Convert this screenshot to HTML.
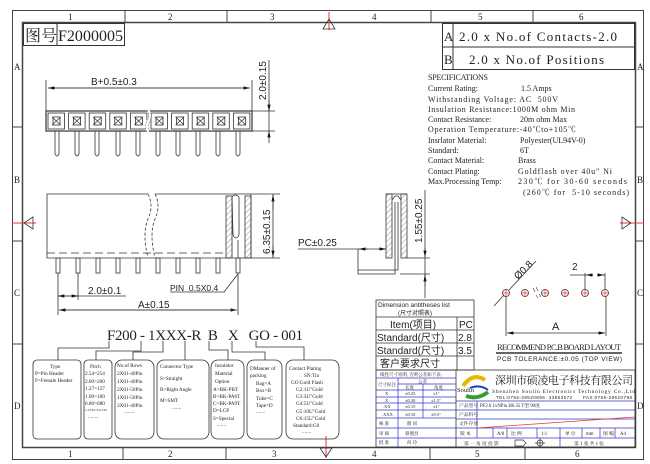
<!DOCTYPE html>
<html><head><meta charset="utf-8"><style>
html,body{margin:0;padding:0;background:#fff;}
svg{display:block;}
text{font-family:"Liberation Serif","Noto Serif CJK SC","Noto Sans CJK SC",serif;fill:#222;white-space:pre;}
.s{font-family:"Liberation Sans","Noto Sans CJK SC",sans-serif;}
</style></head><body>
<svg width="650" height="464" viewBox="0 0 650 464" xmlns="http://www.w3.org/2000/svg" xml:space="preserve">
<defs>
<pattern id="h" width="4" height="4" patternUnits="userSpaceOnUse" patternTransform="rotate(45)"><line x1="0" y1="0" x2="0" y2="4" stroke="#444" stroke-width="0.6"/></pattern>
<marker id="ar" markerWidth="8" markerHeight="6" refX="8" refY="3" orient="auto"><path d="M0,1 L8,3 L0,5 z" fill="#111"/></marker>
</defs>
<g fill="none" stroke="#444" stroke-width="1">
<rect x="12.5" y="10.5" width="631" height="449"/>
<rect x="22.5" y="22.5" width="613" height="425" stroke-width="1.5"/>
<line x1="125" y1="10" x2="125" y2="22"/><line x1="227" y1="10" x2="227" y2="22"/><line x1="431" y1="10" x2="431" y2="22"/><line x1="533" y1="10" x2="533" y2="22"/>
<line x1="123" y1="448" x2="123" y2="459"/><line x1="226" y1="448" x2="226" y2="459"/><line x1="430" y1="448" x2="430" y2="459"/><line x1="525" y1="448" x2="525" y2="459"/>
<line x1="12" y1="127" x2="22" y2="127"/><line x1="12" y1="241" x2="22" y2="241"/><line x1="12" y1="344" x2="22" y2="344"/>
<line x1="636" y1="127" x2="644" y2="127"/><line x1="636" y1="241" x2="644" y2="241"/><line x1="636" y1="344" x2="644" y2="344"/>
</g>
<g class="s" font-size="9">
<text x="68" y="20">1</text><text x="168" y="20">2</text><text x="270" y="20">3</text><text x="372" y="20">4</text><text x="478" y="20">5</text><text x="579" y="20">6</text>
<text x="68" y="457">1</text><text x="168" y="457">2</text><text x="272" y="457">3</text><text x="372" y="457">4</text><text x="475" y="457">5</text><text x="575" y="457">6</text>
<text x="14" y="70">A</text><text x="14" y="183">B</text><text x="14" y="296">C</text><text x="14" y="409">D</text>
<text x="637" y="70">A</text><text x="637" y="183">B</text><text x="637" y="296">C</text><text x="637" y="409">D</text>
</g>
<line x1="329" y1="12" x2="329" y2="30" stroke="#e33" stroke-width="1"/>
<path d="M323,29 L329,19 L335,29 z" fill="none" stroke="#333" stroke-width="0.8"/>
<line x1="326" y1="436" x2="326" y2="458" stroke="#e33" stroke-width="1"/>
<path d="M320,448 L326,457 L332,448 z" fill="none" stroke="#333" stroke-width="0.8"/>
<line x1="12" y1="223" x2="36" y2="223" stroke="#e33"/><path d="M33,217 L24,223 L33,229 z" fill="none" stroke="#333" stroke-width="0.8"/>
<line x1="620" y1="223" x2="644" y2="223" stroke="#e33"/><path d="M622,217 L631,223 L622,229 z" fill="none" stroke="#333" stroke-width="0.8"/>
<rect x="23.5" y="23.5" width="101" height="22" fill="none" stroke="#333"/>
<line x1="57" y1="23" x2="57" y2="45" stroke="#333"/>
<text x="25" y="41" font-size="16">图号</text><text x="58" y="41" font-size="16" textLength="65">F2000005</text>
<g fill="none" stroke="#333"><rect x="442.5" y="23.5" width="192" height="46"/><line x1="442" y1="47" x2="635" y2="47"/><line x1="453" y1="23" x2="453" y2="70"/></g>
<text x="444" y="41" font-size="13">A</text><text x="444" y="64" font-size="13">B</text>
<text x="459" y="41" font-size="13" textLength="158">2.0 x No.of Contacts-2.0</text>
<text x="469" y="64" font-size="13" textLength="135">2.0 x No.of Positions</text>
<g font-size="8">
<text x="428" y="80" textLength="60">SPECIFICATIONS</text>
<text x="428" y="91">Current Rating:</text><text x="521" y="91">1.5 Amps</text>
<text x="428" y="102" textLength="130">Withstanding Voltage: AC  500V</text>
<text x="428" y="112" textLength="147">Insulation Resistance:1000M ohm Min</text>
<text x="428" y="122">Contact Resistance:</text><text x="520" y="122">20m ohm Max</text>
<text x="428" y="132" textLength="148">Operation Temperature:-40℃to+105℃</text>
<text x="428" y="143">Insrlator Material:</text><text x="520" y="143">Polyester(UL94V-0)</text>
<text x="428" y="153">Standard:</text><text x="520" y="153">6T</text>
<text x="428" y="163">Contact Material:</text><text x="518" y="163">Brass</text>
<text x="428" y="174">Contact Plating:</text><text x="518" y="174" textLength="94">Goldflash over 40u" Ni</text>
<text x="428" y="184">Max.Processing Temp:</text><text x="518" y="184" textLength="109">230℃ for 30-60 seconds</text>
<text x="523" y="195" textLength="106">(260℃ for  5-10 seconds)</text>
</g>
<g stroke="#333" fill="none" stroke-width="0.8">
<line x1="46" y1="111" x2="46" y2="80"/><line x1="252" y1="111" x2="252" y2="80"/>
<line x1="48" y1="88" x2="250" y2="88" marker-end="url(#ar)"/><line x1="250" y1="88" x2="48" y2="88" marker-end="url(#ar)"/>
<line x1="252" y1="111" x2="275" y2="111"/><line x1="252" y1="131" x2="275" y2="131"/><line x1="269" y1="60" x2="269" y2="131"/>
<line x1="269" y1="100" x2="269" y2="111" marker-end="url(#ar)"/><line x1="269" y1="143" x2="269" y2="131" marker-end="url(#ar)"/>
<rect x="46" y="111" width="206" height="20" stroke-width="1.2"/>
</g>
<text class="s" x="91" y="85" font-size="10" fill="#555">B+0.5±0.3</text>
<text class="s" x="0" y="0" font-size="10" fill="#555" transform="translate(266,100) rotate(-90)">2.0±0.15</text>
<g stroke="#333" fill="none" stroke-width="0.8">
<rect x="48" y="113" width="16.5" height="16"/><rect x="68.6" y="113" width="16.5" height="16"/><rect x="89.2" y="113" width="16.5" height="16"/><rect x="109.8" y="113" width="16.5" height="16"/><rect x="130.4" y="113" width="16.5" height="16"/><rect x="151" y="113" width="16.5" height="16"/><rect x="171.6" y="113" width="16.5" height="16"/><rect x="192.2" y="113" width="16.5" height="16"/><rect x="212.8" y="113" width="16.5" height="16"/><rect x="233.4" y="113" width="16.5" height="16"/>
<path d="M52,117 l8.5,8 M60.5,117 l-8.5,8 M72.6,117 l8.5,8 M81.1,117 l-8.5,8 M93.2,117 l8.5,8 M101.7,117 l-8.5,8 M113.8,117 l8.5,8 M122.3,117 l-8.5,8 M134.4,117 l8.5,8 M142.9,117 l-8.5,8 M155,117 l8.5,8 M163.5,117 l-8.5,8 M175.6,117 l8.5,8 M184.1,117 l-8.5,8 M196.2,117 l8.5,8 M204.7,117 l-8.5,8 M216.8,117 l8.5,8 M225.3,117 l-8.5,8 M237.4,117 l8.5,8 M245.9,117 l-8.5,8"/>
<rect x="53" y="117" width="7" height="8"/><rect x="73.6" y="117" width="7" height="8"/><rect x="94.2" y="117" width="7" height="8"/><rect x="114.8" y="117" width="7" height="8"/><rect x="135.4" y="117" width="7" height="8"/><rect x="156" y="117" width="7" height="8"/><rect x="176.6" y="117" width="7" height="8"/><rect x="197.2" y="117" width="7" height="8"/><rect x="217.8" y="117" width="7" height="8"/><rect x="238.4" y="117" width="7" height="8"/>
<path d="M55,131 v23 q2,4 4,0 v-23 M75,131 v23 q2,4 4,0 v-23 M95,131 v23 q2,4 4,0 v-23 M116,131 v23 q2,4 4,0 v-23 M136,131 v23 q2,4 4,0 v-23 M156,131 v23 q2,4 4,0 v-23 M176,131 v23 q2,4 4,0 v-23 M196,131 v23 q2,4 4,0 v-23 M216,131 v23 q2,4 4,0 v-23 M236,131 v23 q2,4 4,0 v-23"/>
</g>
<path d="M148,110 q3,5 0,11 q-3,6 0,11" stroke="#fff" stroke-width="3" fill="none"/>
<path d="M147,110 q3,5 0,11 q-3,6 0,11 M150,110 q3,5 0,11 q-3,6 0,11" stroke="#666" stroke-width="0.6" fill="none" stroke-dasharray="2,1"/>
<g stroke="#333" fill="none" stroke-width="0.8">
<path d="M148,194 H47 V258 H251 V194 H155" />
<path d="M148,194 q6,12 0,25 q-6,14 0,39 M155,194 q6,12 0,25 q-6,14 0,39" stroke-dasharray="3,2"/>
<line x1="47" y1="253" x2="225" y2="253" stroke-dasharray="8,4"/>
<rect x="226" y="196" width="6" height="62" fill="url(#h)"/><rect x="245" y="196" width="6" height="62" fill="url(#h)"/>
<path d="M232,197 q3,-4 7,0 v38 q-3,6 -6,0 z M238,240 v18"/>
<rect x="56" y="258" width="4" height="15"/><rect x="76" y="258" width="4" height="15"/><rect x="96" y="258" width="4" height="15"/><rect x="116" y="258" width="4" height="15"/><rect x="136" y="258" width="4" height="15"/><rect x="156" y="258" width="4" height="15"/><rect x="176" y="258" width="4" height="15"/><rect x="196" y="258" width="4" height="15"/><rect x="216" y="258" width="4" height="15"/><rect x="236" y="258" width="4" height="15"/>
<line x1="251" y1="194" x2="280" y2="194"/><line x1="251" y1="258" x2="280" y2="258"/><line x1="273" y1="194" x2="273" y2="258"/>
<line x1="273" y1="210" x2="273" y2="195" marker-end="url(#ar)"/><line x1="273" y1="245" x2="273" y2="257" marker-end="url(#ar)"/>
<line x1="58" y1="273" x2="58" y2="315"/><line x1="78" y1="273" x2="78" y2="300"/><line x1="238" y1="273" x2="238" y2="315"/>
<line x1="70" y1="296" x2="58" y2="296" marker-end="url(#ar)"/><line x1="66" y1="296" x2="78" y2="296" marker-end="url(#ar)"/><line x1="78" y1="296" x2="126" y2="296"/>
<line x1="60" y1="310" x2="237" y2="310" marker-end="url(#ar)"/><line x1="236" y1="310" x2="59" y2="310" marker-end="url(#ar)"/>
<path d="M170,292 H224 L238,274"/>
</g>
<text class="s" x="88" y="294" font-size="10" fill="#555">2.0±0.1</text>
<text class="s" x="170" y="291" font-size="8.5" fill="#555">PIN  0.5X0.4</text>
<text class="s" x="138" y="308" font-size="10" fill="#555">A±0.15</text>
<text class="s" x="0" y="0" font-size="10" fill="#555" transform="translate(270,254) rotate(-90)">6.35±0.15</text>
<g stroke="#333" fill="none" stroke-width="0.8">
<rect x="386" y="194" width="6" height="64" fill="url(#h)"/><rect x="401" y="194" width="6" height="64" fill="url(#h)"/>
<path d="M386,194 H407 M392,200 L395,196 H398 L401,200 M395,202 V258 M398,202 V270 H358 M395,258 V274 H358 V249"/>
<line x1="298" y1="249" x2="386" y2="249"/>
<line x1="368" y1="249" x2="359" y2="249" marker-end="url(#ar)"/><line x1="378" y1="249" x2="386" y2="249" marker-end="url(#ar)"/>
<line x1="407" y1="258" x2="430" y2="258"/><line x1="400" y1="274" x2="430" y2="274"/><line x1="425" y1="190" x2="425" y2="298"/>
<line x1="425" y1="248" x2="425" y2="257" marker-end="url(#ar)"/><line x1="425" y1="286" x2="425" y2="275" marker-end="url(#ar)"/>
</g>
<text class="s" x="298" y="246" font-size="10" fill="#555">PC±0.25</text>
<text class="s" x="0" y="0" font-size="10" fill="#555" transform="translate(422,243) rotate(-90)">1.55±0.25</text>
<g stroke="#333" fill="none" stroke-width="0.8">
<circle cx="506" cy="293" r="3.5"/><circle cx="525" cy="293" r="3.5"/><circle cx="545" cy="293" r="3.5"/><circle cx="565" cy="293" r="3.5"/><circle cx="585" cy="293" r="3.5"/><circle cx="605" cy="293" r="3.5"/>
<line x1="506" y1="296" x2="506" y2="336"/><line x1="606" y1="296" x2="606" y2="336"/>
<line x1="520" y1="333" x2="507" y2="333" marker-end="url(#ar)"/><line x1="592" y1="333" x2="605" y2="333" marker-end="url(#ar)"/><line x1="520" y1="333" x2="592" y2="333"/>
<line x1="585" y1="290" x2="585" y2="273"/><line x1="605" y1="290" x2="605" y2="273"/>
<path d="M570,275 H585 M585,275 h8 M600,275 h5" />
<line x1="593" y1="275" x2="586" y2="275" marker-end="url(#ar)"/><line x1="597" y1="275" x2="604" y2="275" marker-end="url(#ar)"/>
<line x1="494" y1="306" x2="504" y2="295"/><line x1="509" y1="290" x2="536" y2="261"/>
<path d="M533,288 l2,4 M536,287 l2,4 M536,295 l2,3 M539,294 l2,3" stroke-width="0.6"/>
</g>
<g stroke="#e33" stroke-width="0.7"><path d="M502,293 h8 M506,289 v8 M521,293 h8 M525,289 v8 M541,293 h8 M545,289 v8 M561,293 h8 M565,289 v8 M581,293 h8 M585,289 v8 M601,293 h8 M605,289 v8"/></g>
<text class="s" x="0" y="0" font-size="10" fill="#555" transform="translate(518,280) rotate(-45)">Ø0.8</text>
<text class="s" x="572" y="270" font-size="10" fill="#555">2</text>
<text class="s" x="552" y="330" font-size="11" fill="#555">A</text>
<text x="497" y="350" font-size="8.5" textLength="124">RECOMMEND P.C.B BOARD LAYOUT</text>
<line x1="496" y1="353" x2="622" y2="353" stroke="#333" stroke-width="1.5"/>
<text class="s" x="497" y="361" font-size="6.5" textLength="125">PCB TOLERANCE:±0.05 (TOP VIEW)</text>
<text x="107" y="340" font-size="15" textLength="196" lengthAdjust="spacing">F200 - 1XXX-R  B   X   GO - 001</text>
<g stroke="#333" fill="none" stroke-width="0.8">
<path d="M109,341 V348 H58 V360 M141,341 V351 H96 V360 M163,341 V352 H133 V360 M185,341 V360 M209,341 V350 H228 V360 M232,341 V352 H265 V360 M256,341 V347 H304 V360"/>
<rect x="33" y="360" width="48" height="79" rx="4"/><rect x="84" y="360" width="28" height="79" rx="4"/><rect x="115" y="360" width="39" height="79" rx="7"/><rect x="157" y="360" width="52" height="79" rx="7"/><rect x="211" y="360" width="33" height="79" rx="7"/><rect x="247" y="360" width="35" height="79" rx="7"/><rect x="286" y="360" width="53" height="79" rx="7"/>
</g>
<g font-size="5.2">
<text x="50" y="368">Type</text><text x="35" y="375">P=Pin Header</text><text x="35" y="382">F=Female Header</text>
<text x="90" y="368">Pitch</text><text x="85" y="375">2.54=254</text><text x="85" y="383">2.00=200</text><text x="85" y="390">1.27=127</text><text x="85" y="398">1.00=100</text><text x="85" y="405">0.80=080</text><text x="85" y="411" font-size="3.5">1.27X2.54=125</text><text x="88" y="418">........</text>
<text x="117" y="367">No.of Rows</text><text x="117" y="375">2X01-40Pin</text><text x="117" y="383">1X01-40Pin</text><text x="117" y="391">2X01-50Pin</text><text x="117" y="399">1X01-50Pin</text><text x="117" y="407">3X01-40Pin</text><text x="124" y="413">........</text>
<text x="160" y="368">Connector Type</text><text x="160" y="380">S=Straight</text><text x="160" y="391">R=Right Angle</text><text x="160" y="402">M=SMT</text><text x="172" y="409">.......</text>
<text x="215" y="367">Insulator</text><text x="215" y="375">Material</text><text x="215" y="383">Option</text><text x="213" y="391">A=BK-PBT</text><text x="213" y="398">B=BK-PA6T</text><text x="213" y="405">C=BK-PA9T</text><text x="213" y="412">D=LCP</text><text x="213" y="420">S=Special</text><text x="217" y="426">.......</text>
<text x="250" y="370">DManner of</text><text x="250" y="377">packing</text><text x="256" y="385">Bag=A</text><text x="256" y="392">Box=B</text><text x="256" y="400">Tube=C</text><text x="256" y="407">Tape=D</text><text x="256" y="413">.......</text>
<text x="289" y="370">Contact Plating</text><text x="304" y="377">SN:Tin</text><text x="291" y="384">GO:Gold Flash</text><text x="296" y="391">G2:1U"Gold</text><text x="296" y="398">G3:3U"Gold</text><text x="296" y="405">G4:5U"Gold</text><text x="296" y="413">G5:10U"Gold</text><text x="296" y="420">G6:15U"Gold</text><text x="293" y="427">Standard:G0</text><text x="302" y="433">.......</text>
</g>
<g stroke="#333" fill="none" stroke-width="0.8">
<rect x="376" y="300" width="98" height="70"/><line x1="376" y1="317" x2="474" y2="317"/><line x1="376" y1="330" x2="474" y2="330"/><line x1="376" y1="343" x2="474" y2="343"/><line x1="376" y1="356" x2="474" y2="356"/><line x1="457" y1="317" x2="457" y2="370"/>
<rect x="376" y="370" width="259" height="77"/>
<line x1="456" y1="370" x2="456" y2="447"/>
</g>
<text class="s" x="378" y="307" font-size="6.5">Dimension antitheses list</text><text class="s" x="398" y="315" font-size="6">(尺寸对照表)</text>
<text class="s" x="390" y="328" font-size="10">Item(项目)</text><text class="s" x="459" y="328" font-size="10">PC</text>
<text class="s" x="377" y="341" font-size="10">Standard(尺寸)</text><text class="s" x="458" y="341" font-size="10">2.8</text>
<text class="s" x="377" y="354" font-size="10">Standard(尺寸)</text><text class="s" x="458" y="354" font-size="10">3.5</text>
<text class="s" x="380" y="367" font-size="10">客户要求尺寸</text>
<text x="380" y="376" font-size="4.5" fill="#e33">线性尺寸说明, 否则公差如下表:</text>
<g stroke="#33c" stroke-width="0.7" fill="none">
<path d="M376,378 H456 M398,384 H456 M376,390 H456 M376,397 H456 M376,403 H456 M376,410 H456 M376,418 H456 M376,428 H456 M376,438 H456 M398,378 V447 M423,384 V418"/>
</g>
<g font-size="4.5">
<text x="378" y="386">尺寸标注</text><text x="418" y="383">公差</text><text x="405" y="389">长度</text><text x="434" y="389">角度</text>
<text x="385" y="395">X</text><text x="405" y="395">±0.25</text><text x="433" y="395">±1°</text>
<text x="384" y="402">.X</text><text x="405" y="402">±0.20</text><text x="431" y="402">±1.5°</text>
<text x="383" y="408">.XX</text><text x="405" y="408">±0.15</text><text x="433" y="408">±1°</text>
<text x="382" y="416">.XXX</text><text x="405" y="416">±0.10</text><text x="431" y="416">±0.5°</text>
<text x="379" y="425">核 准</text><text x="407" y="425">簡 同</text>
<text x="379" y="435">审 核</text><text x="405" y="435">蔡德昌</text>
<text x="379" y="444">批 准</text><text x="407" y="444">何 玲</text>
</g>
<path d="M463,386 q10,-14 22,-6" stroke="#e6b800" stroke-width="4" fill="none"/>
<path d="M466,396 q12,4 22,-4" stroke="#3a9a3a" stroke-width="4" fill="none"/>
<path d="M470,388 q10,-4 18,2" stroke="#1a3ac8" stroke-width="2" fill="none"/>
<text x="457" y="392" font-size="6.5">Soulin</text>
<text x="495" y="384" font-size="11" textLength="138">深圳市硕凌电子科技有限公司</text>
<text x="492" y="393" font-size="5.5" textLength="143">Shenzhen Soulin Electronics Technology Co.,Ltd</text>
<text class="s" x="496" y="399" font-size="4.5" fill="#e33" textLength="136">TEL:0755-29520896  33853672      FAX:0755-29520798</text>
<g stroke="#33c" stroke-width="0.7" fill="none">
<path d="M456,401 H635 M456,410 H635 M456,419 H635 M456,428 H635 M456,438 H635 M477,401 V438 M493,428 V438 M507,428 V438 M537,428 V438 M560,428 V447 M582,428 V438 M600,428 V438 M615,428 V438"/>
</g>
<line x1="477" y1="428" x2="635" y2="417" stroke="#e33" stroke-width="0.8"/>
<g font-size="4.8">
<text x="459" y="407">产品型号</text><text x="480" y="407">PF2.0 1xNPin H6.35 T型 90度</text>
<text x="459" y="416">产品料号</text><text x="459" y="425">文件存放</text>
<text x="460" y="435">版 本</text><text x="497" y="435">A/0</text><text x="511" y="435">比 例</text><text x="541" y="435" fill="#e33">1:1</text><text x="565" y="435">单 位</text><text x="586" y="435" fill="#e33">mm</text><text x="603" y="435">图 幅</text><text x="620" y="435">A4</text>
<text x="464" y="445">第 一 角 度 投 影</text><text x="574" y="445">第 1 张 共 1 张</text>
</g>
<g stroke="#333" fill="none" stroke-width="0.7"><path d="M515,440 h8 l3,3 -3,3 h-8 z"/><circle cx="540" cy="443" r="3"/><path d="M535,443 h10 M540,438 v10"/></g>
</svg>
</body></html>
